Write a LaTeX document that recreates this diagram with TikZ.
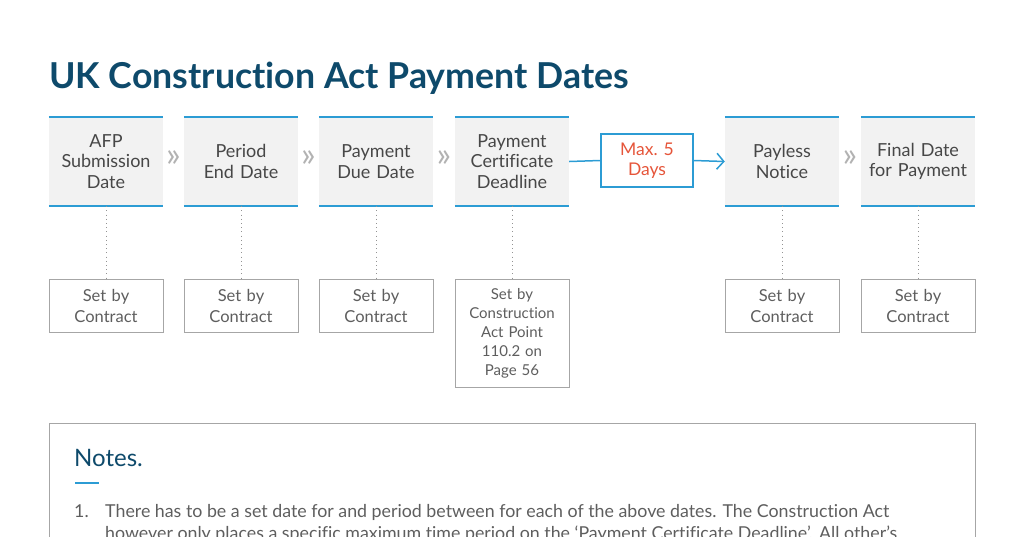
\documentclass[tikz,border=0pt]{standalone}
\usepackage{fontspec}
\setmainfont{Lato}[Ligatures={NoCommon}]
\usetikzlibrary{arrows.meta,positioning}
\usepackage{xcolor}
\definecolor{titleblue}{HTML}{0E4A6B}
\definecolor{lineblue}{HTML}{2C9CD4}
\definecolor{boxgrey}{HTML}{F2F2F2}
\definecolor{textgrey}{HTML}{474747}
\definecolor{setgrey}{HTML}{5E5E5E}
\definecolor{maxred}{HTML}{E6553A}

\begin{document}
\begin{tikzpicture}[x=1pt, y=-1pt,
    datebox/.style={
        rectangle,
        fill=boxgrey,
        minimum width=114pt,
        minimum height=89pt,
        text width=112pt,
        align=center,
        inner sep=0pt,
        text=textgrey,
        font=\fontsize{18}{20.5}\selectfont
    },
    setbox/.style={
        rectangle,
        draw=gray!70,
        fill=white,
        minimum width=114pt,
        minimum height=53pt,
        text width=112pt,
        align=center,
        inner sep=0pt,
        text=setgrey,
        font=\fontsize{16.5}{21}\selectfont
    },
    blueline/.style={draw=lineblue, line width=1.8pt},
    chevron/.style={inner sep=0pt, text=gray!60, font=\fontsize{34}{34}\selectfont},
    dots/.style={draw=gray!85, line width=1pt, dash pattern=on 1pt off 3.2pt}
]
    \useasboundingbox (0,0) rectangle (1024,536);

    \node (title) [anchor=base west, inner sep=0pt, text=titleblue,
        font=\bfseries\fontsize{35.7}{36}\selectfont] at (49,88)
    {
        UK Construction Act Payment Dates
    };

    % date boxes
    \node (afp_date) [datebox] at (106,161.5) {AFP\\Submission\\Date};
    \node (period_end) [datebox] at (241,161.5) {Period\\End Date};
    \node (payment_due) [datebox] at (376,161.5) {Payment\\Due Date};
    \node (certificate_deadline) [datebox] at (512,161.5) {Payment\\Certificate\\Deadline};
    \node (payless_notice) [datebox] at (782,161.5) {Payless\\Notice};
    \node (final_date) [datebox] at (918,161.5) {Final Date\\for Payment};

    \draw[blueline] (afp_date.north west) -- (afp_date.north east) (afp_date.south west) -- (afp_date.south east);
    \draw[blueline] (period_end.north west) -- (period_end.north east) (period_end.south west) -- (period_end.south east);
    \draw[blueline] (payment_due.north west) -- (payment_due.north east) (payment_due.south west) -- (payment_due.south east);
    \draw[blueline] (certificate_deadline.north west) -- (certificate_deadline.north east) (certificate_deadline.south west) -- (certificate_deadline.south east);
    \draw[blueline] (payless_notice.north west) -- (payless_notice.north east) (payless_notice.south west) -- (payless_notice.south east);
    \draw[blueline] (final_date.north west) -- (final_date.north east) (final_date.south west) -- (final_date.south east);

    \node (chevron_a) [chevron] at (173.5,159) {»};
    \node (chevron_b) [chevron] at (308.5,159) {»};
    \node (chevron_c) [chevron] at (444,159) {»};
    \node (chevron_d) [chevron] at (850,159) {»};

    \node (max_days) [rectangle, draw=lineblue, line width=1.5pt, fill=white,
        minimum width=92pt, minimum height=53pt, inner sep=0pt, align=center,
        text=maxred, font=\fontsize{17.5}{20}\selectfont] at (647,160.5)
    {
        Max. 5\\Days
    };

    % set by boxes
    \node (afp_set) [setbox] at (106,305.5) {Set by\\Contract};
    \node (period_set) [setbox] at (241,305.5) {Set by\\Contract};
    \node (due_set) [setbox] at (376,305.5) {Set by\\Contract};
    \node (certificate_set) [setbox, minimum height=108pt,
        font=\fontsize{15}{19}\selectfont] at (512,333)
    {
        Set by\\Construction\\Act Point\\110.2 on\\Page 56
    };
    \node (payless_set) [setbox] at (782,305.5) {Set by\\Contract};
    \node (final_set) [setbox] at (918,305.5) {Set by\\Contract};

    \draw[lineblue, line width=1.5pt] (certificate_deadline.east) to (max_days.west);
    \draw[-{Straight Barb[length=7pt,width=16pt,line width=1.5pt]}, lineblue, line width=1.5pt] (max_days.east) to (payless_notice.west);

    \draw[dots] (afp_date.south) to (afp_set.north);
    \draw[dots] (period_end.south) to (period_set.north);
    \draw[dots] (payment_due.south) to (due_set.north);
    \draw[dots] (certificate_deadline.south) to (certificate_set.north);
    \draw[dots] (payless_notice.south) to (payless_set.north);
    \draw[dots] (final_date.south) to (final_set.north);

    % notes
    \node (notes_box) [rectangle, draw=gray!70, anchor=north west,
        minimum width=926pt, minimum height=150pt, inner sep=0pt] at (49,423) {};
    \node (notes_title) [anchor=base west, inner sep=0pt, text=titleblue,
        font=\fontsize{24}{24}\selectfont] at (74,466)
    {
        Notes.
    };
    \coordinate (rule_start) at (75,483);
    \coordinate (rule_end) at (99,483);
    \draw[lineblue, line width=1.5pt] (rule_start) -- (rule_end);
    \node (note_text) [anchor=north west, inner sep=0pt, align=left, text=setgrey,
        font=\fontsize{17.8}{22}\selectfont] at (74,504)
    {
        \makebox[31pt][l]{1.}There has to be a set date for and period between for each of the above dates. The Construction Act\\
        \hspace*{31pt}however only places a specific maximum time period on the ‘Payment Certificate Deadline’. All other’s
    };
\end{tikzpicture}
\end{document}
